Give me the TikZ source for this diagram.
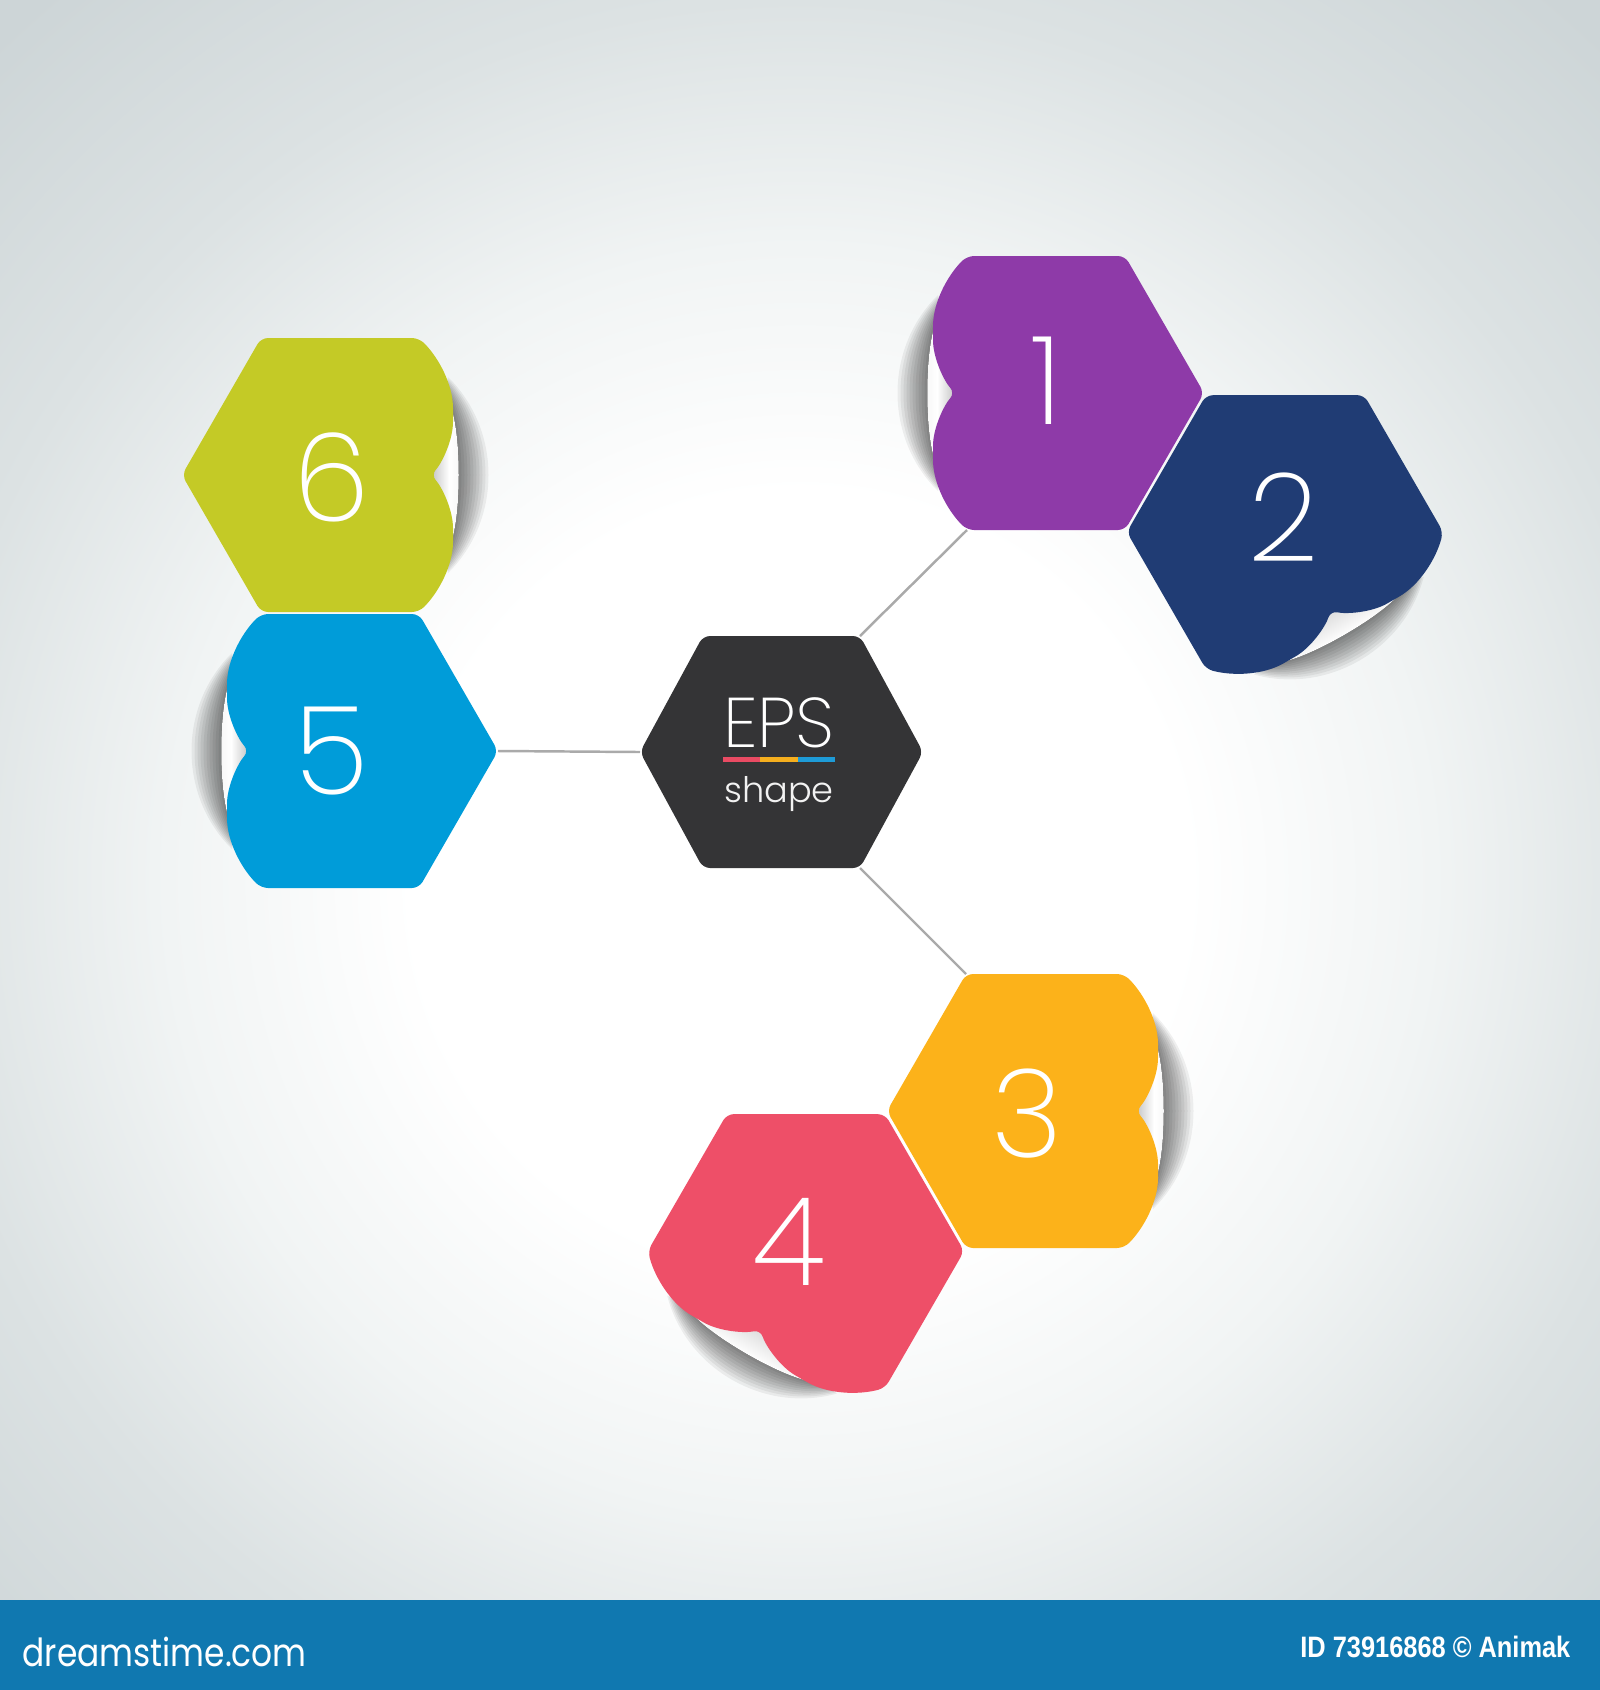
\documentclass[tikz,border=0pt]{standalone}
\usepackage{fontspec}
\IfFontExistsTF{Poppins ExtraLight}{\newfontfamily\numfont{Poppins ExtraLight}}{%
 \IfFontExistsTF{Poppins-ExtraLight.ttf}{\newfontfamily\numfont{Poppins-ExtraLight.ttf}}{%
  \IfFontExistsTF{Poppins Light}{\newfontfamily\numfont{Poppins Light}}{%
   \IfFontExistsTF{Fira Sans Light}{\newfontfamily\numfont{Fira Sans Light}}{%
    \IfFontExistsTF{Lato Light}{\newfontfamily\numfont{Lato Light}}{%
     \newfontfamily\numfont{Poppins}}}}}}
\IfFontExistsTF{Poppins Light}{\newfontfamily\lightfont{Poppins Light}}{%
 \IfFontExistsTF{Poppins-Light.ttf}{\newfontfamily\lightfont{Poppins-Light.ttf}}{%
  \IfFontExistsTF{Fira Sans Light}{\newfontfamily\lightfont{Fira Sans Light}}{%
   \IfFontExistsTF{Lato Light}{\newfontfamily\lightfont{Lato Light}}{%
    \newfontfamily\lightfont{Poppins}}}}}
\newfontfamily\bannerfont{Poppins}
\newfontfamily\idfont{Liberation Sans}
\definecolor{hpurple}{HTML}{8E3AA8}
\definecolor{hnavy}{HTML}{203C74}
\definecolor{hgreen}{HTML}{C4CA26}
\definecolor{hblue}{HTML}{009CD9}
\definecolor{hyellow}{HTML}{FCB21A}
\definecolor{hred}{HTML}{EE4F68}
\definecolor{hdark}{HTML}{343436}
\definecolor{bannerblue}{HTML}{1078B0}
\definecolor{conngray}{HTML}{AAAAAA}
\definecolor{bgA}{HTML}{F1F4F4}
\definecolor{bgB}{HTML}{DCE2E3}
\definecolor{bgC}{HTML}{CDD5D7}
\definecolor{curlin}{HTML}{C4C4C4}
\definecolor{curlout}{HTML}{F6F6F6}
\definecolor{barred}{HTML}{E94B63}
\definecolor{baryellow}{HTML}{F4AE1E}
\definecolor{barblue}{HTML}{1E9BD7}
\pgfdeclareradialshading{bgshade}{\pgfpoint{0bp}{0bp}}{color(0bp)=(white); color(11bp)=(white); color(18bp)=(bgA); color(25bp)=(bgB); color(33bp)=(bgC); color(50bp)=(bgC)}
% bottom = outer edge of the curl, top = inner (notch) side
\pgfdeclareverticalshading{curlshade}{100bp}{color(0bp)=(curlout); color(25bp)=(curlout); color(45bp)=(white); color(75bp)=(curlin); color(100bp)=(curlin)}
\tikzset{
  connector/.style={draw=conngray, line width=0.7pt},
  digit/.style={text=white, font=\numfont\fontsize{35}{35}\selectfont, inner sep=0pt},
}
% #1 cx, #2 cy, #3 rotation, #4 shading angle, #5 colour
\newcommand\peelhex[5]{%
  \begin{scope}[shift={(#1,#2)}, rotate=#3]
    \foreach \d in {0,4,...,36}{
      \fill[black, opacity=0.06] (-108,{-80-0.5*\d}) .. controls ({-126-\d},-45) and ({-126-\d},45) .. (-108,{80+0.5*\d}) -- (-80,0) -- cycle;
    }
    \fill[shading=curlshade, shading angle=#4] (-112,-65) .. controls (-121,-35) and (-121,35) .. (-112,65) -- (-91,0) -- cycle;
    \fill[#5, rounded corners=2pt] (0,-137) -- (79,-137) -- (158,0) -- (79,137) -- (-79,137)
      .. controls (-99,117) and (-113,90) .. (-113,60)
      .. controls (-113,35) and (-102,12) .. (-91,0)
      .. controls (-102,-12) and (-113,-35) .. (-113,-60)
      .. controls (-113,-90) and (-99,-117) .. (-79,-137) -- cycle;
  \end{scope}}
\begin{document}
\begin{tikzpicture}[x=0.01cm, y=-0.01cm]
\useasboundingbox (0,0) rectangle (1600,1690);
% background
\begin{scope}
  \clip (0,0) rectangle (1600,1600);
  \shade[shading=bgshade] (-80,0) rectangle (1680,1760);
\end{scope}
\fill[bannerblue] (0,1600) rectangle (1600,1690);

% connection points
\coordinate (cL) at (640,752);
\coordinate (cTR) at (860,636);
\coordinate (cBR) at (860,868);
\coordinate (h5R) at (498,751);
\coordinate (h1BL) at (967,530);
\coordinate (h3TL) at (966,974);

% connectors
\draw[connector] (cL) -- (h5R);
\draw[connector] (cTR) -- (h1BL);
\draw[connector] (cBR) -- (h3TL);

% central hexagon
\fill[hdark, rounded corners=2pt] (703,636) -- (860,636) -- (923,752) -- (860,868) -- (703,868) -- (640,752) -- cycle;

% coloured hexagons
\peelhex{340}{475}{180}{90}{hgreen}
\peelhex{340}{751}{0}{-90}{hblue}
\peelhex{1046}{393}{0}{-90}{hpurple}
\peelhex{1285}{532}{120}{30}{hnavy}
\peelhex{1045}{1111}{180}{90}{hyellow}
\peelhex{806}{1251}{60}{-30}{hred}

% numbers
\node[digit] (d1) at (1046,381) {1};
\node[digit] (d2) at (1284,517) {2};
\node[digit] (d3) at (1027,1114) {3};
\node[digit] (d4) at (789,1242) {4};
\node[digit] (d5) at (332,751) {5};
\node[digit] (d6) at (332,477) {6};

% centre text
\node[anchor=base, text=white, inner sep=0pt, font=\numfont\fontsize{20}{20}\selectfont] (eps) at (779,747) {EPS};
\fill[barred] (723,756.5) rectangle (760,761.5);
\fill[baryellow] (760,756.5) rectangle (797.5,761.5);
\fill[barblue] (797.5,756.5) rectangle (835,761.5);
\node[anchor=base, text=white!90!gray, inner sep=0pt, font=\lightfont\fontsize{10}{10}\selectfont] (shape) at (779,802) {shape};

% banner texts
\node[anchor=base west, text=white, inner sep=0pt, xscale=0.85, font=\bannerfont\fontsize{11}{11}\selectfont] (dt) at (22,1666) {dreamstime.com};
\node[anchor=base east, text=white, inner sep=0pt, xscale=0.86, font=\idfont\bfseries\fontsize{8.4}{8.4}\selectfont] (id) at (1571,1657) {ID 73916868 © Animak};
\end{tikzpicture}
\end{document}
